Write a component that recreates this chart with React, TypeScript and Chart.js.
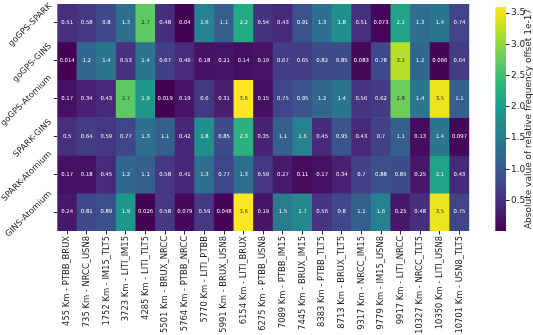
import { useEffect, useRef } from "react";
import { Chart, registerables } from "chart.js";
Chart.register(...registerables);

const FONT = "DejaVu Sans";
const TEXT = "#262626";

const columnLabels = [
  "455 Km - PTBB_BRUX", "735 Km - NRCC_USN8", "1752 Km - IM15_TLT5", "3723 Km - LITI_IM15",
  "4285 Km - LITI_TLT5", "5501 Km - BRUX_NRCC", "5764 Km - PTBB_NRCC", "5770 Km - LITI_PTBB",
  "5991 Km - BRUX_USN8", "6154 Km - LITI_BRUX", "6275 Km - PTBB_USN8", "7089 Km - PTBB_IM15",
  "7445 Km - BRUX_IM15", "8383 Km - PTBB_TLT5", "8713 Km - BRUX_TLT5", "9317 Km - NRCC_IM15",
  "9779 Km - IM15_USN8", "9917 Km - LITI_NRCC", "10327 Km - NRCC_TLT5", "10350 Km - LITI_USN8",
  "10701 Km - USN8_TLT5",
];

const rowLabels = ["goGPS-SPARK", "goGPS-GINS", "goGPS-Atomium", "SPARK-GINS", "SPARK-Atomium", "GINS-Atomium"];

const goGPS_SPARK = [0.51, 0.58, 0.8, 1.3, 2.7, 0.48, 0.04, 1.6, 1.1, 2.2, 0.54, 0.43, 0.91, 1.3, 1.8, 0.51, 0.073, 2.1, 1.3, 1.4, 0.74];
const goGPS_GINS = [0.014, 1.2, 1.4, 0.53, 1.4, 0.67, 0.46, 0.18, 0.21, 0.14, 0.19, 0.67, 0.65, 0.82, 0.85, 0.083, 0.78, 3.2, 1.2, 0.066, 0.64];
const goGPS_Atomium = [0.17, 0.34, 0.43, 2.7, 1.9, 0.019, 0.19, 0.6, 0.31, 3.6, 0.15, 0.75, 0.95, 1.2, 1.4, 0.56, 0.62, 2.8, 1.4, 3.5, 1.1];
const SPARK_GINS = [0.5, 0.64, 0.59, 0.77, 1.3, 1.1, 0.42, 1.8, 0.85, 2.3, 0.35, 1.1, 1.6, 0.45, 0.95, 0.43, 0.7, 1.1, 0.13, 1.4, 0.097];
const SPARK_Atomium = [0.17, 0.18, 0.45, 1.2, 1.1, 0.58, 0.41, 1.3, 0.77, 1.3, 0.59, 0.27, 0.11, 0.17, 0.34, 0.7, 0.88, 0.85, 0.25, 2.1, 0.43];
const GINS_Atomium = [0.24, 0.81, 0.89, 1.9, 0.026, 0.58, 0.079, 0.59, 0.048, 3.6, 0.19, 1.5, 1.7, 0.56, 0.8, 1.1, 1.6, 0.25, 0.48, 3.5, 0.75];

const rowValues = [goGPS_SPARK, goGPS_GINS, goGPS_Atomium, SPARK_GINS, SPARK_Atomium, GINS_Atomium];

const colorbarTicks = [0.5, 1.0, 1.5, 2.0, 2.5, 3.0, 3.5];
const colorbarTitle = "Absolute value of relative frequency offset 1e-17";

const VIRIDIS: number[][] = [
  [68, 1, 84], [71, 19, 101], [72, 36, 117], [70, 52, 128], [65, 68, 135], [59, 82, 139],
  [53, 95, 141], [47, 108, 142], [42, 120, 142], [37, 132, 142], [33, 145, 140], [30, 156, 137],
  [34, 168, 132], [47, 180, 124], [68, 191, 112], [94, 201, 98], [122, 209, 81], [155, 217, 60],
  [189, 223, 38], [223, 227, 24], [253, 231, 37],
];

function viridisRGB(t: number): number[] {
  const c = Math.max(0, Math.min(1, t)) * (VIRIDIS.length - 1);
  const i = Math.min(Math.floor(c), VIRIDIS.length - 2);
  const f = c - i;
  const a = VIRIDIS[i], b = VIRIDIS[i + 1];
  return [0, 1, 2].map((k) => a[k] + (b[k] - a[k]) * f);
}
function rgbStr(c: number[]) {
  return `rgb(${Math.round(c[0])},${Math.round(c[1])},${Math.round(c[2])})`;
}
function textColorFor(c: number[]) {
  const lin = c.map((v) => {
    const s = v / 255;
    return s <= 0.03928 ? s / 12.92 : Math.pow((s + 0.055) / 1.055, 2.4);
  });
  const lum = 0.2126 * lin[0] + 0.7152 * lin[1] + 0.0722 * lin[2];
  return lum > 0.408 ? TEXT : "#ffffff";
}

const allValues = rowValues.flat();
const vmin = Math.min(...allValues);
const vmax = Math.max(...allValues);
const norm = (v: number) => (v - vmin) / (vmax - vmin);

export default function App() {
  const mainRef = useRef<HTMLCanvasElement>(null);
  const cbRef = useRef<HTMLCanvasElement>(null);

  useEffect(() => {
    document.body.style.margin = "0";
    Chart.defaults.font.family = FONT;

    const annotPlugin = {
      id: "annot",
      afterDatasetsDraw(chart: any) {
        const ctx = chart.ctx;
        ctx.save();
        ctx.font = `5.3px "${FONT}"`;
        ctx.textAlign = "center";
        ctx.textBaseline = "middle";
        rowValues.forEach((vals, r) => {
          const meta = chart.getDatasetMeta(r);
          meta.data.forEach((el: any, j: number) => {
            const v = vals[j];
            ctx.fillStyle = textColorFor(viridisRGB(norm(v)));
            ctx.fillText(String(v), el.x, (el.y + el.base) / 2);
          });
        });
        ctx.restore();
      },
      afterDraw(chart: any) {
        const ctx = chart.ctx;
        const ys = chart.scales.y;
        const size = 8.4;
        ctx.save();
        ctx.font = `${size}px "${FONT}"`;
        ctx.fillStyle = TEXT;
        ctx.textAlign = "center";
        ctx.textBaseline = "middle";
        const xAnchor = ys.right - 3.5 - 0.5;
        ys.ticks.forEach((_t: any, i: number) => {
          const label = rowLabels[i];
          const yc = ys.getPixelForTick(i) + 2;
          const w = ctx.measureText(label).width;
          const h = size;
          const half = ((w + h) * Math.SQRT1_2) / 2;
          ctx.save();
          ctx.translate(xAnchor - half, yc);
          ctx.rotate(-Math.PI / 4);
          ctx.fillText(label, 0, 0);
          ctx.restore();
        });
        ctx.restore();
      },
    };

    const gridOpts = {
      display: true,
      drawOnChartArea: false,
      drawTicks: true,
      tickLength: 3.5,
      color: TEXT,
      lineWidth: 1,
      offset: false,
    };

    const main = new Chart(mainRef.current!, {
      type: "bar",
      data: {
        labels: columnLabels,
        datasets: rowValues.map((vals, r) => ({
          label: rowLabels[r],
          data: vals.map(() => 1),
          backgroundColor: vals.map((v) => rgbStr(viridisRGB(norm(v)))),
          borderWidth: 0,
          barPercentage: 1,
          categoryPercentage: 1,
        })),
      },
      options: {
        animation: false,
        responsive: false,
        devicePixelRatio: 1,
        layout: { padding: { left: 0, right: 533 - 469.3, top: 4, bottom: 0 } },
        plugins: { legend: { display: false }, tooltip: { enabled: false } },
        scales: {
          x: {
            type: "category",
            stacked: true,
            offset: true,
            grid: gridOpts,
            border: { display: false },
            ticks: {
              autoSkip: false,
              minRotation: 90,
              maxRotation: 90,
              padding: 1.5,
              color: TEXT,
              font: { family: FONT, size: 8.4 },
            },
            afterFit: (s: any) => {
              s.height = 104;
            },
          },
          y: {
            type: "linear",
            stacked: true,
            min: 0,
            max: rowLabels.length,
            reverse: true,
            grid: gridOpts,
            border: { display: false },
            ticks: { display: false },
            afterBuildTicks: (s: any) => {
              s.ticks = rowLabels.map((_, i) => ({ value: i + 0.5 }));
            },
            afterFit: (s: any) => {
              s.width = 57.3;
            },
          },
        },
      } as any,
      plugins: [annotPlugin],
    });

    const titlePlugin = {
      id: "cbtitle",
      afterDraw(chart: any) {
        const ctx = chart.ctx;
        const area = chart.chartArea;
        ctx.save();
        ctx.font = `9px "${FONT}"`;
        ctx.fillStyle = TEXT;
        ctx.textAlign = "center";
        ctx.textBaseline = "middle";
        ctx.translate(chart.width - 4.8, (area.top + area.bottom) / 2);
        ctx.rotate(-Math.PI / 2);
        ctx.fillText(colorbarTitle, 0, 0);
        ctx.restore();
      },
    };

    const cb = new Chart(cbRef.current!, {
      type: "bar",
      data: {
        labels: [""],
        datasets: [
          {
            data: [[vmin, vmax]],
            backgroundColor: (c: any) => {
              const area = c.chart.chartArea;
              if (!area) return "transparent";
              const g = c.chart.ctx.createLinearGradient(0, area.bottom, 0, area.top);
              VIRIDIS.forEach((col, i) => g.addColorStop(i / (VIRIDIS.length - 1), rgbStr(col)));
              return g;
            },
            borderWidth: 0,
            barPercentage: 1,
            categoryPercentage: 1,
          },
        ],
      },
      options: {
        animation: false,
        responsive: false,
        devicePixelRatio: 1,
        layout: { padding: { left: 15.3, right: 0, top: 4.3, bottom: 104 } },
        plugins: { legend: { display: false }, tooltip: { enabled: false } },
        scales: {
          x: { display: false },
          y: {
            type: "linear",
            position: "right",
            min: vmin,
            max: vmax,
            grid: { ...gridOpts },
            border: { display: false },
            ticks: {
              padding: 1.5,
              color: TEXT,
              font: { family: FONT, size: 9 },
              callback: (v: any) => Number(v).toFixed(1),
            },
            afterBuildTicks: (s: any) => {
              s.ticks = colorbarTicks.map((v) => ({ value: v }));
            },
            afterFit: (s: any) => {
              s.width = 27;
            },
          },
        },
      } as any,
      plugins: [titlePlugin],
    });

    return () => {
      main.destroy();
      cb.destroy();
    };
  }, []);

  return (
    <div style={{ position: "relative", width: 533, height: 335, background: "#ffffff" }}>
      <canvas ref={mainRef} width={533} height={335} style={{ position: "absolute", left: 0, top: 0 }} />
      <canvas ref={cbRef} width={53} height={335} style={{ position: "absolute", left: 480, top: 0 }} />
    </div>
  );
}
